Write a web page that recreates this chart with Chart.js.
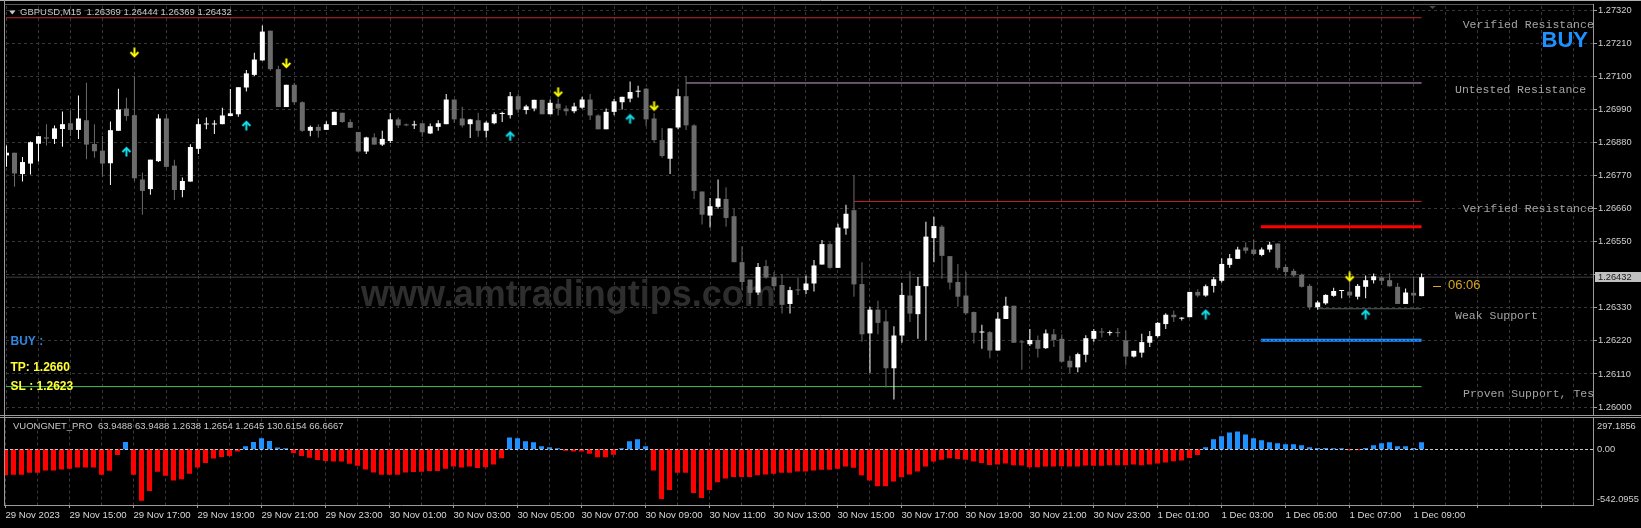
<!DOCTYPE html>
<html><head><meta charset="utf-8">
<script src="https://cdn.jsdelivr.net/npm/chart.js@4.4.1/dist/chart.umd.min.js"></script>
<style>
html,body{margin:0;padding:0;background:#000;overflow:hidden;}
#wrap{position:relative;width:1641px;height:528px;background:#000;}
#main{position:absolute;left:0;top:0;width:1641px;height:416px;}
#ind{position:absolute;left:0;top:416px;width:1641px;height:112px;}
</style></head><body>
<div id="wrap">
<canvas id="main" width="1641" height="416"></canvas>
<canvas id="ind" width="1641" height="112"></canvas>
</div>
<script>
// ---------------- DATA (GBPUSD M15, 29 Nov 13:00 -> 1 Dec 09:15) ----------------
const opens = [1.26837,1.26846,1.26775,1.26810,1.26876,1.26897,1.26892,1.26925,1.26944,1.26922,
1.26954,1.26875,1.26853,1.26811,1.26919,1.26993,1.26971,1.26757,1.26725,1.26818,
1.26960,1.26803,1.26722,1.26750,1.26859,1.26940,1.26940,1.26941,1.26968,1.26974,
1.27063,1.27105,1.27153,1.27252,1.27124,1.26998,1.27072,1.27014,1.26919,1.26932,
1.26922,1.26938,1.26979,1.26948,1.26915,1.26850,1.26897,1.26873,1.26885,1.26957,
1.26940,1.26937,1.26944,1.26910,1.26932,1.26941,1.27023,1.26960,1.26941,1.26954,
1.26919,1.26944,1.26975,1.26971,1.27034,1.26988,1.26993,1.27022,1.26974,1.27009,
1.26993,1.26984,1.26996,1.27023,1.26970,1.26924,1.26982,1.27014,1.27026,1.27049,
1.27059,1.26960,1.26888,1.26826,1.26930,1.27034,1.26937,1.26717,1.26637,1.26666,
1.26692,1.26635,1.26482,1.26424,1.26381,1.26469,1.26433,1.26406,1.26343,1.26390,
1.26389,1.26411,1.26474,1.26542,1.26463,1.26594,1.26655,1.26409,1.26245,1.26324,
1.26285,1.26129,1.26238,1.26371,1.26309,1.26402,1.26562,1.26600,1.26502,1.26416,
1.26371,1.26316,1.26248,1.26249,1.26188,1.26293,1.26337,1.26217,1.26209,1.26223,
1.26196,1.26242,1.26227,1.26154,1.26132,1.26174,1.26227,1.26250,1.26246,1.26248,
1.26222,1.26168,1.26181,1.26214,1.26236,1.26276,1.26307,1.26294,1.26299,1.26383,
1.26371,1.26403,1.26420,1.26473,1.26493,1.26531,1.26524,1.26506,1.26524,1.26544,
1.26466,1.26453,1.26440,1.26403,1.26332,1.26345,1.26370,1.26386,1.26384,1.26367,
1.26400,1.26422,1.26431,1.26422,1.26400,1.26343,1.26380,1.26369];
const highs = [1.26870,1.26846,1.26832,1.26883,1.26902,1.26941,1.26937,1.26983,1.26987,1.27036,
1.27079,1.26941,1.26902,1.26950,1.27059,1.27029,1.27101,1.26780,1.26823,1.26974,
1.26974,1.26823,1.26764,1.26874,1.26960,1.26963,1.26954,1.26996,1.27058,1.27064,
1.27121,1.27179,1.27269,1.27252,1.27135,1.27072,1.27079,1.27017,1.26937,1.26941,
1.26951,1.26982,1.26979,1.26957,1.26915,1.26899,1.26911,1.26919,1.26977,1.26963,
1.26943,1.26952,1.26944,1.26943,1.26954,1.27041,1.27023,1.26999,1.26959,1.26979,
1.26951,1.26981,1.26982,1.27048,1.27042,1.27006,1.27022,1.27022,1.27023,1.27026,
1.27003,1.27012,1.27032,1.27041,1.26974,1.26993,1.27025,1.27032,1.27083,1.27069,
1.27061,1.26977,1.26928,1.26927,1.27059,1.27101,1.26941,1.26717,1.26695,1.26757,
1.26731,1.26660,1.26534,1.26424,1.26479,1.26489,1.26449,1.26442,1.26400,1.26430,
1.26438,1.26489,1.26556,1.26548,1.26610,1.26673,1.26771,1.26482,1.26334,1.26354,
1.26324,1.26269,1.26413,1.26452,1.26433,1.26616,1.26633,1.26606,1.26502,1.26476,
1.26449,1.26318,1.26274,1.26253,1.26315,1.26367,1.26337,1.26220,1.26260,1.26238,
1.26258,1.26260,1.26242,1.26171,1.26181,1.26239,1.26260,1.26263,1.26255,1.26263,
1.26255,1.26187,1.26244,1.26253,1.26283,1.26312,1.26321,1.26299,1.26383,1.26392,
1.26408,1.26433,1.26495,1.26509,1.26533,1.26548,1.26558,1.26531,1.26550,1.26544,
1.26474,1.26460,1.26444,1.26409,1.26354,1.26375,1.26397,1.26389,1.26422,1.26409,
1.26438,1.26444,1.26435,1.26446,1.26413,1.26394,1.26433,1.26444];
const lows = [1.26799,1.26733,1.26750,1.26774,1.26817,1.26870,1.26875,1.26866,1.26902,1.26892,
1.26824,1.26829,1.26766,1.26739,1.26919,1.26952,1.26752,1.26640,1.26706,1.26815,
1.26797,1.26689,1.26698,1.26750,1.26842,1.26924,1.26908,1.26941,1.26968,1.26966,
1.27050,1.27101,1.27153,1.27119,1.26998,1.26998,1.27006,1.26916,1.26901,1.26897,
1.26922,1.26938,1.26946,1.26929,1.26848,1.26842,1.26873,1.26868,1.26878,1.26928,
1.26934,1.26925,1.26899,1.26908,1.26919,1.26941,1.26946,1.26930,1.26895,1.26899,
1.26897,1.26941,1.26948,1.26960,1.26979,1.26974,1.26984,1.26974,1.26974,1.26970,
1.26970,1.26977,1.26992,1.26955,1.26924,1.26924,1.26971,1.26990,1.27014,1.27030,
1.26935,1.26879,1.26829,1.26775,1.26924,1.26922,1.26692,1.26607,1.26597,1.26660,
1.26600,1.26482,1.26389,1.26343,1.26373,1.26427,1.26389,1.26311,1.26311,1.26373,
1.26376,1.26384,1.26474,1.26460,1.26463,1.26573,1.26367,1.26217,1.26114,1.26242,
1.26065,1.26025,1.26214,1.26283,1.26227,1.26222,1.26482,1.26427,1.26391,1.26334,
1.26307,1.26211,1.26194,1.26162,1.26188,1.26293,1.26214,1.26124,1.26203,1.26165,
1.26193,1.26200,1.26149,1.26113,1.26116,1.26149,1.26217,1.26231,1.26238,1.26233,
1.26138,1.26165,1.26165,1.26200,1.26231,1.26260,1.26283,1.26288,1.26299,1.26365,
1.26367,1.26381,1.26414,1.26463,1.26493,1.26511,1.26504,1.26502,1.26515,1.26457,
1.26436,1.26433,1.26398,1.26324,1.26324,1.26340,1.26367,1.26362,1.26362,1.26358,
1.26362,1.26411,1.26406,1.26400,1.26343,1.26343,1.26345,1.26369];
const closes = [1.26846,1.26777,1.26815,1.26881,1.26901,1.26893,1.26927,1.26941,1.26922,1.26960,
1.26873,1.26851,1.26810,1.26921,1.26990,1.26968,1.26761,1.26719,1.26823,1.26960,
1.26799,1.26722,1.26752,1.26865,1.26941,1.26942,1.26942,1.26970,1.26977,1.27064,
1.27110,1.27156,1.27249,1.27124,1.26998,1.27072,1.27014,1.26919,1.26932,1.26919,
1.26941,1.26982,1.26948,1.26929,1.26850,1.26897,1.26873,1.26892,1.26957,1.26937,
1.26937,1.26940,1.26914,1.26934,1.26944,1.27023,1.26957,1.26937,1.26957,1.26919,
1.26946,1.26974,1.26977,1.27034,1.26990,1.27000,1.27022,1.26974,1.27012,1.26993,
1.26984,1.27000,1.27023,1.26970,1.26924,1.26982,1.27017,1.27032,1.27048,1.27051,
1.26957,1.26888,1.26835,1.26927,1.27034,1.26937,1.26719,1.26640,1.26668,1.26694,
1.26629,1.26482,1.26416,1.26380,1.26466,1.26431,1.26402,1.26340,1.26389,1.26388,
1.26411,1.26471,1.26542,1.26463,1.26597,1.26643,1.26408,1.26242,1.26324,1.26280,
1.26129,1.26238,1.26373,1.26311,1.26403,1.26567,1.26602,1.26503,1.26414,1.26367,
1.26312,1.26247,1.26250,1.26188,1.26294,1.26337,1.26214,1.26215,1.26223,1.26194,
1.26245,1.26223,1.26151,1.26132,1.26176,1.26229,1.26253,1.26248,1.26248,1.26246,
1.26168,1.26187,1.26216,1.26236,1.26280,1.26307,1.26299,1.26296,1.26383,1.26371,
1.26402,1.26425,1.26476,1.26495,1.26524,1.26520,1.26509,1.26524,1.26540,1.26463,
1.26449,1.26438,1.26400,1.26332,1.26348,1.26373,1.26386,1.26388,1.26371,1.26403,
1.26422,1.26435,1.26420,1.26402,1.26343,1.26381,1.26371,1.26432];
const vuongnet = [-254,-248,-248,-229,-229,-207,-207,-197,-191,-178,
-178,-178,-248,-210,-57,70,-248,-502,-407,-219,
-258,-305,-292,-238,-178,-134,-92,-76,-67,-22,
29,70,105,79,16,3,-38,-67,-83,-105,
-114,-121,-121,-143,-162,-197,-226,-248,-248,-248,
-226,-223,-219,-213,-213,-191,-168,-178,-168,-184,
-175,-149,-89,114,105,76,67,29,19,3,
-16,-22,-22,-45,-79,-79,-54,3,76,95,
29,-207,-483,-397,-229,-229,-426,-474,-397,-321,
-286,-270,-270,-270,-254,-245,-238,-229,-229,-216,
-216,-207,-200,-200,-191,-168,-181,-254,-305,-359,
-359,-315,-273,-245,-216,-168,-121,-102,-89,-95,
-102,-121,-134,-153,-149,-140,-156,-159,-175,-175,
-168,-168,-165,-168,-168,-159,-162,-162,-156,-156,
-156,-149,-156,-149,-140,-130,-118,-111,-86,-57,
19,95,124,162,172,143,105,86,67,57,
48,48,38,19,10,10,3,3,-6,-3,
10,38,57,67,29,29,10,67];
const priceTicks = [1.27320,1.27210,1.27100,1.26990,1.26880,1.26770,1.26660,1.26550,1.26440,1.26330,1.26220,1.26110,1.26000];
const priceMin = 1.259902, priceMax = 1.273341;
const indMin = -542.0955, indMax = 297.1856;
const timeLabels = ["29 Nov 2023","29 Nov 15:00","29 Nov 17:00","29 Nov 19:00","29 Nov 21:00","29 Nov 23:00",
"30 Nov 01:00","30 Nov 03:00","30 Nov 05:00","30 Nov 07:00","30 Nov 09:00","30 Nov 11:00","30 Nov 13:00",
"30 Nov 15:00","30 Nov 17:00","30 Nov 19:00","30 Nov 21:00","30 Nov 23:00","1 Dec 01:00","1 Dec 03:00",
"1 Dec 05:00","1 Dec 07:00","1 Dec 09:00"];
const upArrowBars = [15,30,63,78,150,170];
const upArrowPrices = [1.26850,1.26937,1.26902,1.26959,1.26309,1.26309];
const downArrowBars = [16,35,69,81,168];
const downArrowPrices = [1.27179,1.27143,1.27047,1.27001,1.26433];
const zoneNames = ["Verified Resistance","Untested Resistance","Verified Resistance","Weak Support","Proven Support, Tested"];
const zonePrices = [1.27295,1.27078,1.26684,1.26327,1.26068];
const zoneStartBars = [-1,85,106,164,-1];
const tpPrice = 1.26600, slPrice = 1.26222, tradeStartBar = 156.9;
const currentPrice = 1.26432;
const indicatorHeader = "VUONGNET_PRO  63.9488 63.9488 1.2638 1.2654 1.2645 130.6154 66.6667";

// ---------------- LAYOUT ----------------
const N = opens.length;
const XMIN = -0.0625, XMAX = 198.4375;   // 8 px per bar in a 1588 px wide plot
const GRID = '#383838';
const FONT = '"Liberation Sans"';
const BULL = '#ffffff', BEAR = '#6b6b6b';
const isBull = i => closes[i] >= opens[i];

function barGridTicks(axis) {
  const t = [];
  for (let b = 0; b <= XMAX; b += 4) t.push({ value: b });
  axis.ticks = t;
}
function makeArrow(color, up) {
  const c = document.createElement('canvas'); c.width = 11; c.height = 11;
  const g = c.getContext('2d');
  g.strokeStyle = color; g.lineWidth = 2; g.lineJoin = 'miter'; g.lineCap = 'butt';
  if (!up) { g.translate(0, 11); g.scale(1, -1); }
  g.beginPath(); g.moveTo(1.5, 6); g.lineTo(5.5, 2); g.lineTo(9.5, 6); g.stroke();
  g.beginPath(); g.moveTo(5.5, 2); g.lineTo(5.5, 10.5); g.stroke();
  return c;
}
const upImg = makeArrow('#12e0ee', true);
const downImg = makeArrow('#ffff00', false);

const hline = (p, x0, x1, color, width, dash, order) => ({
  type: 'line', data: [{ x: x0, y: p }, { x: x1, y: p }], borderColor: color, borderWidth: width,
  borderDash: dash || [], pointRadius: 0, order: order, fill: false
});
const lastBar = N - 1;
const zoneColors = ['#c0282d', '#d0a4d0', '#c0282d', '#50605f', '#4fc04f'];

const mainDatasets = [
  hline(currentPrice, XMIN, XMAX, '#404040', 1, null, 20),
  ...zonePrices.map((p, k) => hline(p, zoneStartBars[k], lastBar, zoneColors[k], 1, null, 15)),
  hline(tpPrice, tradeStartBar, lastBar, '#ff0000', 3, null, 14),
  hline(slPrice, tradeStartBar, lastBar, '#1e90ff', 3, null, 14),
  hline(slPrice, tradeStartBar, lastBar, '#0d3c80', 1, [2, 2], 13),
  { type: 'bar', grouped: false, order: 2, barPercentage: 1, categoryPercentage: 1, maxBarThickness: 1, inflateAmount: 0,
    data: opens.map((o, i) => ({ x: i, y: [lows[i], highs[i]] })),
    backgroundColor: c => isBull(c.dataIndex) ? BULL : BEAR },
  { type: 'bar', grouped: false, order: 1, barPercentage: 1, categoryPercentage: 1, maxBarThickness: 5, inflateAmount: 0, minBarLength: 1,
    data: opens.map((o, i) => ({ x: i, y: [o, closes[i]] })),
    backgroundColor: c => isBull(c.dataIndex) ? BULL : BEAR },
  { type: 'line', showLine: false, order: 0, pointStyle: upImg, pointRadius: 5,
    data: upArrowBars.map((b, k) => ({ x: b, y: upArrowPrices[k] })) },
  { type: 'line', showLine: false, order: 0, pointStyle: downImg, pointRadius: 5,
    data: downArrowBars.map((b, k) => ({ x: b, y: downArrowPrices[k] })) }
];

const mainDecor = {
  id: 'mainDecor',
  beforeDatasetsDraw(chart) {
    const { ctx, chartArea: a } = chart;
    ctx.save();
    ctx.beginPath(); ctx.rect(a.left, a.top, a.right - a.left, a.bottom - a.top); ctx.clip();
    ctx.font = 'bold 36px ' + FONT; ctx.fillStyle = '#2e2e2e';
    ctx.textAlign = 'left'; ctx.textBaseline = 'alphabetic';
    ctx.fillText('www.amtradingtips.com', 361, 306);
    ctx.restore();
  },
  afterDatasetsDraw(chart) {
    const { ctx, chartArea: a } = chart; const y = chart.scales.y;
    ctx.save();
    ctx.beginPath(); ctx.rect(a.left, a.top, a.right - a.left, a.bottom - a.top); ctx.clip();
    // zone labels
    ctx.font = '11.5px "Liberation Mono"'; ctx.fillStyle = '#a4a4a4';
    ctx.textAlign = 'left'; ctx.textBaseline = 'middle';
    const zx = [1462.7, 1455, 1462.7, 1455, 1463];
    zoneNames.forEach((n, k) => ctx.fillText(n, zx[k], y.getPixelForValue(zonePrices[k]) + 7.4));
    // BUY signal
    ctx.font = 'bold 22px ' + FONT; ctx.fillStyle = '#1e90ff'; ctx.textAlign = 'right';
    ctx.fillText('BUY', 1588, 40.5);
    // left trade box
    ctx.textAlign = 'left'; ctx.font = 'bold 12px ' + FONT;
    ctx.fillStyle = '#2f86e0'; ctx.fillText('BUY :', 10.5, 341.7);
    ctx.fillStyle = '#ffff33';
    ctx.fillText('TP: ' + tpPrice.toFixed(4), 10.5, 367.3);
    ctx.fillText('SL : ' + (1.2623).toFixed(4), 10.5, 386.7);
    // countdown
    const cy = y.getPixelForValue(currentPrice);
    ctx.fillStyle = '#d9a520';
    ctx.fillRect(1433, Math.round(cy + 8.5), 8, 1);
    ctx.font = '13px ' + FONT; ctx.fillText('06:06', 1448, cy + 8.7);
    // header
    ctx.fillStyle = '#c8c8c8'; ctx.font = '9.5px ' + FONT;
    ctx.fillText('GBPUSD,M15  ' + [opens[lastBar], highs[lastBar], lows[lastBar], closes[lastBar]].map(v => v.toFixed(5)).join(' '), 20, 12.7);
    ctx.beginPath(); ctx.moveTo(9, 10.5); ctx.lineTo(15.5, 10.5); ctx.lineTo(12.25, 14.5); ctx.closePath(); ctx.fill();
    ctx.fillStyle = '#4a4a4a';
    ctx.beginPath(); ctx.moveTo(1428, 5); ctx.lineTo(1437, 5); ctx.lineTo(1432.5, 9); ctx.closePath(); ctx.fill();
    ctx.restore();
    // current price label on axis
    ctx.save();
    ctx.fillStyle = '#c0c0c0'; ctx.fillRect(1595, Math.round(cy) - 5, 46, 10);
    ctx.fillStyle = '#1a1a1a'; ctx.font = '9.3px ' + FONT; ctx.textBaseline = 'middle'; ctx.textAlign = 'left';
    ctx.fillText(currentPrice.toFixed(5), 1598, cy);
    ctx.restore();
  },
  afterDraw(chart) {
    const { ctx } = chart;
    ctx.save(); ctx.lineWidth = 1;
    ctx.strokeStyle = '#b0b0b0';
    ctx.beginPath(); ctx.moveTo(0, 0.5); ctx.lineTo(1641, 0.5); ctx.stroke();
    ctx.strokeStyle = '#5a5a5a';
    ctx.beginPath(); ctx.moveTo(4, 4.5); ctx.lineTo(1593, 4.5); ctx.stroke();
    ctx.strokeStyle = '#9a9a9a';
    ctx.beginPath(); ctx.moveTo(4.5, 0); ctx.lineTo(4.5, 416); ctx.stroke();
    ctx.beginPath(); ctx.moveTo(1593.5, 4); ctx.lineTo(1593.5, 415); ctx.stroke();
    ctx.beginPath(); ctx.moveTo(0, 415.5); ctx.lineTo(1641, 415.5); ctx.stroke();
    ctx.restore();
  }
};

new Chart(document.getElementById('main'), {
  type: 'bar',
  data: { datasets: mainDatasets },
  options: {
    responsive: false, animation: false, events: [],
    layout: { padding: { left: 5, top: 5, right: 0, bottom: 1 } },
    plugins: { legend: { display: false }, tooltip: { enabled: false } },
    scales: {
      x: { type: 'linear', min: XMIN, max: XMAX, bounds: 'data', offset: false,
        grid: { offset: false, color: GRID, drawTicks: false },
        border: { display: false, dash: [3, 3] },
        ticks: { display: false },
        afterBuildTicks: barGridTicks,
        afterFit: s => { s.height = 0; s.paddingLeft = 0; s.paddingRight = 0; } },
      y: { type: 'linear', position: 'right', min: priceMin, max: priceMax, bounds: 'data',
        grid: { color: GRID, tickColor: '#a0a0a0', tickLength: 4, tickBorderDash: [] },
        border: { display: false, dash: [3, 3] },
        ticks: { color: '#d0d0d0', font: { family: FONT, size: 9.3 }, padding: 1,
          callback: v => Math.abs(v - currentPrice) < 0.0001 ? '' : v.toFixed(5) },
        afterBuildTicks: s => { s.ticks = priceTicks.map(v => ({ value: v })); },
        afterFit: s => { s.width = 48; s.paddingTop = 0; s.paddingBottom = 0; } }
    }
  },
  plugins: [mainDecor]
});

const indDecor = {
  id: 'indDecor',
  afterDatasetsDraw(chart) {
    const { ctx, chartArea: a } = chart; const y = chart.scales.y;
    const zy = Math.round(y.getPixelForValue(0)) + 0.5;
    ctx.save();
    ctx.strokeStyle = '#c8c8c8'; ctx.lineWidth = 1; ctx.setLineDash([3, 2]);
    ctx.beginPath(); ctx.moveTo(a.left, zy); ctx.lineTo(a.right, zy); ctx.stroke();
    ctx.setLineDash([]);
    ctx.fillStyle = '#c8c8c8'; ctx.font = '9.5px ' + FONT; ctx.textAlign = 'left'; ctx.textBaseline = 'middle';
    ctx.fillText(indicatorHeader, 13, 10.7);
    ctx.fillStyle = '#d0d0d0'; ctx.font = '9.3px ' + FONT;
    ctx.fillText(indMax.toFixed(4), 1597, a.top + 7.5);
    ctx.fillText((0).toFixed(2), 1597, y.getPixelForValue(0) + 0.5);
    ctx.fillText(indMin.toFixed(4), 1597, a.bottom - 6);
    ctx.restore();
  },
  afterDraw(chart) {
    const { ctx } = chart;
    ctx.save(); ctx.lineWidth = 1; ctx.strokeStyle = '#9a9a9a';
    ctx.beginPath(); ctx.moveTo(0, 1.5); ctx.lineTo(1641, 1.5); ctx.stroke();
    ctx.beginPath(); ctx.moveTo(4.5, 0); ctx.lineTo(4.5, 89); ctx.stroke();
    ctx.beginPath(); ctx.moveTo(1593.5, 1.5); ctx.lineTo(1593.5, 89.5); ctx.stroke();
    ctx.beginPath(); ctx.moveTo(4, 89.5); ctx.lineTo(1594, 89.5); ctx.stroke();
    ctx.restore();
  }
};

new Chart(document.getElementById('ind'), {
  type: 'bar',
  data: { datasets: [{
    grouped: false, barPercentage: 1, categoryPercentage: 1, maxBarThickness: 5, inflateAmount: 0, minBarLength: 1,
    data: vuongnet.map((v, i) => ({ x: i, y: v })),
    backgroundColor: c => (vuongnet[c.dataIndex] >= 0 ? '#1e90ff' : '#ff0000')
  }] },
  options: {
    responsive: false, animation: false, events: [],
    layout: { padding: { left: 5, top: 2.5, right: 0, bottom: 0 } },
    plugins: { legend: { display: false }, tooltip: { enabled: false } },
    scales: {
      x: { type: 'linear', min: XMIN, max: XMAX, bounds: 'data', offset: false,
        grid: { offset: false, color: GRID, tickLength: 3, tickBorderDash: [],
          tickColor: c => (c.tick && c.tick.value % 8 === 0) ? '#a0a0a0' : 'rgba(0,0,0,0)' },
        border: { display: false, dash: [3, 3] },
        ticks: { color: '#d8d8d8', font: { family: FONT, size: 9.6 }, padding: 1.5, maxRotation: 0, minRotation: 0,
          autoSkip: false, align: 'start',
          callback: v => (v % 8 === 0 && v / 8 < timeLabels.length) ? timeLabels[v / 8] : '' },
        afterBuildTicks: barGridTicks,
        afterFit: s => { s.height = 23; s.paddingLeft = 0; s.paddingRight = 0; } },
      y: { type: 'linear', position: 'right', min: indMin, max: indMax, bounds: 'data',
        grid: { display: false }, border: { display: false }, ticks: { display: false },
        afterFit: s => { s.width = 48; s.paddingTop = 0; s.paddingBottom = 0; } }
    }
  },
  plugins: [indDecor]
});
</script>
</body></html>
